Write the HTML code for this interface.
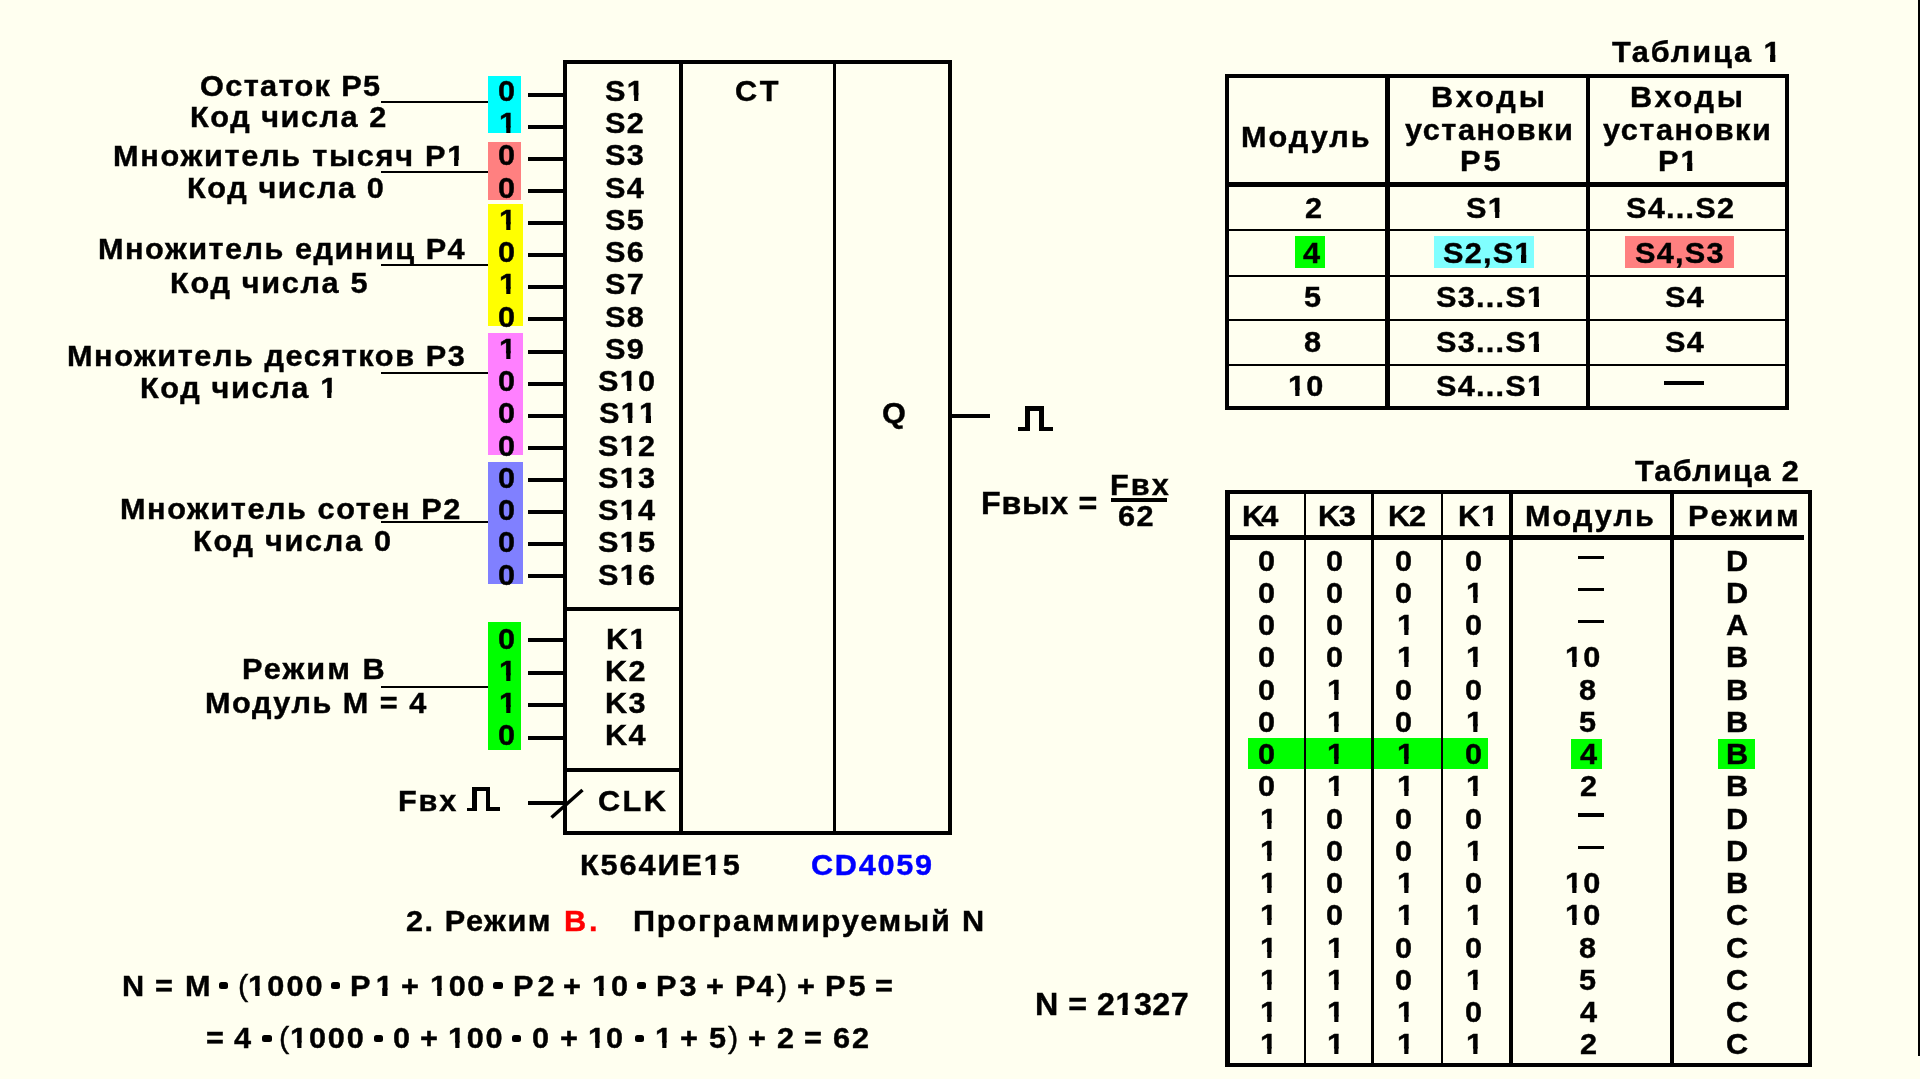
<!DOCTYPE html>
<html><head><meta charset="utf-8"><style>
html,body{margin:0;padding:0;}
body{width:1920px;height:1079px;background:#FFFFF0;position:relative;overflow:hidden;}
.t{position:absolute;white-space:pre;font-family:"Liberation Sans",sans-serif;font-weight:bold;font-size:29.5px;line-height:29.5px;color:#000;transform-origin:0 0;-webkit-text-stroke:0.4px currentColor;}
.r{position:absolute;background:#000;}
.one{display:inline-block;vertical-align:top;position:relative}.oc{display:inline-block;vertical-align:top;clip-path:polygon(0 0,100% 0,100% 0.66em,0 0.66em)}.one::after{content:'';position:absolute;left:calc(0.2334em - 0.2px);width:calc(0.1372em + 0.4px);top:0.6em;height:calc(0.2467em + 0.2px);background:currentColor}
#w{position:absolute;left:0;top:0;width:1920px;height:1079px;filter:blur(0.4px);}
</style></head><body><div id=w>
<div class=r style='left:381.00px;top:100.70px;width:108.50px;height:2.00px;'></div>
<div class=r style='left:381.00px;top:171.30px;width:108.50px;height:2.00px;'></div>
<div class=r style='left:381.00px;top:264.30px;width:108.50px;height:2.00px;'></div>
<div class=r style='left:381.00px;top:371.70px;width:108.50px;height:2.00px;'></div>
<div class=r style='left:381.00px;top:521.30px;width:108.50px;height:2.00px;'></div>
<div class=r style='left:381.00px;top:685.50px;width:108.50px;height:2.00px;'></div>
<div class=r style='left:488.00px;top:76.00px;width:33.00px;height:56.50px;background:#00FFFF;'></div>
<div class=r style='left:488.00px;top:142.00px;width:33.00px;height:58.00px;background:#FF8080;'></div>
<div class=r style='left:488.00px;top:204.40px;width:34.50px;height:121.60px;background:#FFFF00;'></div>
<div class=r style='left:488.00px;top:332.50px;width:34.50px;height:122.70px;background:#FF80FF;'></div>
<div class=r style='left:488.00px;top:462.00px;width:34.50px;height:122.00px;background:#8080FF;'></div>
<div class=r style='left:488.00px;top:622.00px;width:33.00px;height:128.00px;background:#00FF00;'></div>
<div class=r style='left:528.00px;top:93.00px;width:36.00px;height:4.00px;'></div>
<div class=r style='left:528.00px;top:125.07px;width:36.00px;height:4.00px;'></div>
<div class=r style='left:528.00px;top:157.14px;width:36.00px;height:4.00px;'></div>
<div class=r style='left:528.00px;top:189.21px;width:36.00px;height:4.00px;'></div>
<div class=r style='left:528.00px;top:221.28px;width:36.00px;height:4.00px;'></div>
<div class=r style='left:528.00px;top:253.35px;width:36.00px;height:4.00px;'></div>
<div class=r style='left:528.00px;top:285.42px;width:36.00px;height:4.00px;'></div>
<div class=r style='left:528.00px;top:317.49px;width:36.00px;height:4.00px;'></div>
<div class=r style='left:528.00px;top:349.56px;width:36.00px;height:4.00px;'></div>
<div class=r style='left:528.00px;top:381.63px;width:36.00px;height:4.00px;'></div>
<div class=r style='left:528.00px;top:413.70px;width:36.00px;height:4.00px;'></div>
<div class=r style='left:528.00px;top:445.77px;width:36.00px;height:4.00px;'></div>
<div class=r style='left:528.00px;top:477.84px;width:36.00px;height:4.00px;'></div>
<div class=r style='left:528.00px;top:509.91px;width:36.00px;height:4.00px;'></div>
<div class=r style='left:528.00px;top:541.98px;width:36.00px;height:4.00px;'></div>
<div class=r style='left:528.00px;top:574.05px;width:36.00px;height:4.00px;'></div>
<div class=r style='left:528.00px;top:638.00px;width:36.00px;height:4.00px;'></div>
<div class=r style='left:528.00px;top:670.60px;width:36.00px;height:4.00px;'></div>
<div class=r style='left:528.00px;top:703.20px;width:36.00px;height:4.00px;'></div>
<div class=r style='left:528.00px;top:735.80px;width:36.00px;height:4.00px;'></div>
<div class=r style='left:563.00px;top:60.00px;width:389.00px;height:4.00px;'></div>
<div class=r style='left:563.00px;top:831.00px;width:389.00px;height:4.00px;'></div>
<div class=r style='left:563.00px;top:60.00px;width:4.00px;height:775.00px;'></div>
<div class=r style='left:948.00px;top:60.00px;width:4.00px;height:775.00px;'></div>
<div class=r style='left:679.00px;top:60.00px;width:3.50px;height:775.00px;'></div>
<div class=r style='left:832.50px;top:60.00px;width:3.50px;height:775.00px;'></div>
<div class=r style='left:563.00px;top:607.00px;width:119.00px;height:4.00px;'></div>
<div class=r style='left:563.00px;top:768.00px;width:119.00px;height:4.00px;'></div>
<div class=r style='left:528.00px;top:800.50px;width:37.00px;height:4.00px;'></div>
<div class=r style='left:952.00px;top:414.00px;width:38.00px;height:4.00px;'></div>
<div class=r style='left:1018.00px;top:427.00px;width:12.00px;height:4.00px;'></div>
<div class=r style='left:1025.00px;top:408.00px;width:5.00px;height:23.00px;'></div>
<div class=r style='left:1025.00px;top:406.00px;width:19.00px;height:4.50px;'></div>
<div class=r style='left:1039.00px;top:406.00px;width:5.00px;height:25.00px;'></div>
<div class=r style='left:1039.00px;top:426.50px;width:14.00px;height:4.50px;'></div>
<div class=r style='left:467.00px;top:808.00px;width:10.00px;height:2.50px;'></div>
<div class=r style='left:472.00px;top:789.00px;width:5.00px;height:21.50px;'></div>
<div class=r style='left:472.00px;top:787.00px;width:18.00px;height:3.50px;'></div>
<div class=r style='left:486.00px;top:787.00px;width:4.00px;height:23.50px;'></div>
<div class=r style='left:486.00px;top:806.50px;width:14.00px;height:4.00px;'></div>
<div class=r style='left:218.75px;top:982.20px;width:9.20px;height:7.00px;border-radius:2.5px;'></div>
<div class=r style='left:330.75px;top:982.20px;width:9.20px;height:7.00px;border-radius:2.5px;'></div>
<div class=r style='left:493.40px;top:982.20px;width:9.20px;height:7.00px;border-radius:2.5px;'></div>
<div class=r style='left:637.00px;top:982.20px;width:9.20px;height:7.00px;border-radius:2.5px;'></div>
<div class=r style='left:262.47px;top:1034.70px;width:9.20px;height:7.00px;border-radius:2.5px;'></div>
<div class=r style='left:373.95px;top:1034.70px;width:9.20px;height:7.00px;border-radius:2.5px;'></div>
<div class=r style='left:511.60px;top:1034.70px;width:9.20px;height:7.00px;border-radius:2.5px;'></div>
<div class=r style='left:634.88px;top:1034.70px;width:9.20px;height:7.00px;border-radius:2.5px;'></div>
<div class=r style='left:1111.00px;top:498.00px;width:56.00px;height:4.00px;'></div>
<div class=r style='left:1225.00px;top:73.50px;width:564.00px;height:4.00px;'></div>
<div class=r style='left:1225.00px;top:406.00px;width:564.00px;height:4.00px;'></div>
<div class=r style='left:1225.00px;top:73.50px;width:4.00px;height:336.50px;'></div>
<div class=r style='left:1785.00px;top:73.50px;width:4.00px;height:336.50px;'></div>
<div class=r style='left:1385.00px;top:73.50px;width:4.80px;height:336.50px;'></div>
<div class=r style='left:1585.50px;top:73.50px;width:4.50px;height:336.50px;'></div>
<div class=r style='left:1225.00px;top:182.00px;width:564.00px;height:4.50px;'></div>
<div class=r style='left:1225.00px;top:229.30px;width:564.00px;height:2.00px;'></div>
<div class=r style='left:1225.00px;top:274.50px;width:564.00px;height:2.00px;'></div>
<div class=r style='left:1225.00px;top:319.00px;width:564.00px;height:2.00px;'></div>
<div class=r style='left:1225.00px;top:364.00px;width:564.00px;height:2.00px;'></div>
<div class=r style='left:1295.25px;top:235.60px;width:29.45px;height:32.40px;background:#00FF00;'></div>
<div class=r style='left:1434.00px;top:235.60px;width:99.75px;height:32.40px;background:#80FFFF;'></div>
<div class=r style='left:1625.25px;top:235.60px;width:108.75px;height:32.40px;background:#FF8080;'></div>
<div class=r style='left:1664.00px;top:381.00px;width:40.00px;height:4.00px;'></div>
<div class=r style='left:1225.30px;top:490.00px;width:587.10px;height:4.00px;'></div>
<div class=r style='left:1225.30px;top:1063.00px;width:587.10px;height:3.80px;'></div>
<div class=r style='left:1225.30px;top:490.00px;width:4.40px;height:576.80px;'></div>
<div class=r style='left:1808.00px;top:490.00px;width:4.40px;height:576.80px;'></div>
<div class=r style='left:1248.00px;top:738.30px;width:240.00px;height:30.70px;background:#00FF00;'></div>
<div class=r style='left:1571.30px;top:738.70px;width:30.40px;height:30.00px;background:#00FF00;'></div>
<div class=r style='left:1718.30px;top:738.70px;width:36.40px;height:30.00px;background:#00FF00;'></div>
<div class=r style='left:1304.00px;top:490.00px;width:2.00px;height:576.80px;'></div>
<div class=r style='left:1371.00px;top:490.00px;width:3.00px;height:576.80px;'></div>
<div class=r style='left:1441.00px;top:490.00px;width:2.00px;height:576.80px;'></div>
<div class=r style='left:1509.00px;top:490.00px;width:4.00px;height:576.80px;'></div>
<div class=r style='left:1669.70px;top:490.00px;width:4.30px;height:576.80px;'></div>
<div class=r style='left:1225.30px;top:535.00px;width:578.70px;height:4.50px;'></div>
<div class=r style='left:1578.00px;top:555.50px;width:26.00px;height:3.50px;'></div>
<div class=r style='left:1578.00px;top:587.74px;width:26.00px;height:3.50px;'></div>
<div class=r style='left:1578.00px;top:619.98px;width:26.00px;height:3.50px;'></div>
<div class=r style='left:1578.00px;top:813.42px;width:26.00px;height:3.50px;'></div>
<div class=r style='left:1578.00px;top:845.66px;width:26.00px;height:3.50px;'></div>
<div class=t style='left:200.21px;top:70.5px;transform:scaleX(1.0400);letter-spacing:1.32px;'>Остаток Р5</div>
<div class=t style='left:190.42px;top:101.5px;transform:scaleX(1.0400);letter-spacing:1.48px;'>Код числа 2</div>
<div class=t style='left:113.42px;top:140.5px;transform:scaleX(1.0400);letter-spacing:1.65px;'>Множитель тысяч Р<span class=one><span class=oc>1</span></span></div>
<div class=t style='left:186.67px;top:172.5px;transform:scaleX(1.0400);letter-spacing:1.53px;'>Код числа 0</div>
<div class=t style='left:97.92px;top:234.25px;transform:scaleX(1.0400);letter-spacing:1.44px;'>Множитель единиц Р4</div>
<div class=t style='left:170.42px;top:267.5px;transform:scaleX(1.0400);letter-spacing:1.60px;'>Код числа 5</div>
<div class=t style='left:67.42px;top:341.0px;transform:scaleX(1.0400);letter-spacing:1.49px;'>Множитель десятков Р3</div>
<div class=t style='left:140.42px;top:373.0px;transform:scaleX(1.0400);letter-spacing:1.57px;'>Код числа <span class=one><span class=oc>1</span></span></div>
<div class=t style='left:120.42px;top:493.5px;transform:scaleX(1.0400);letter-spacing:1.50px;'>Множитель сотен Р2</div>
<div class=t style='left:192.92px;top:525.5px;transform:scaleX(1.0400);letter-spacing:1.65px;'>Код числа 0</div>
<div class=t style='left:241.67px;top:654.25px;transform:scaleX(1.0400);letter-spacing:1.98px;'>Режим В</div>
<div class=t style='left:204.92px;top:688.0px;transform:scaleX(1.0400);letter-spacing:1.44px;'>Модуль М = 4</div>
<div class=t style='left:397.92px;top:785.75px;transform:scaleX(1.0400);letter-spacing:1.73px;'>Fвх</div>
<div class=t style='left:498.28px;top:75.75px;transform:scaleX(1.0400);'>0</div>
<div class=t style='left:605.24px;top:75.75px;transform:scaleX(1.0400);letter-spacing:1.20px;'>S<span class=one><span class=oc>1</span></span></div>
<div class=t style='left:498.74px;top:108.0px;transform:scaleX(1.0400);'><span class=one><span class=oc>1</span></span></div>
<div class=t style='left:605.46px;top:108.0px;transform:scaleX(1.0400);letter-spacing:1.20px;'>S2</div>
<div class=t style='left:498.28px;top:140.25px;transform:scaleX(1.0400);'>0</div>
<div class=t style='left:605.46px;top:140.25px;transform:scaleX(1.0400);letter-spacing:1.20px;'>S3</div>
<div class=t style='left:498.28px;top:172.5px;transform:scaleX(1.0400);'>0</div>
<div class=t style='left:604.94px;top:172.5px;transform:scaleX(1.0400);letter-spacing:1.20px;'>S4</div>
<div class=t style='left:498.74px;top:204.75px;transform:scaleX(1.0400);'><span class=one><span class=oc>1</span></span></div>
<div class=t style='left:605.46px;top:204.75px;transform:scaleX(1.0400);letter-spacing:1.20px;'>S5</div>
<div class=t style='left:498.28px;top:237.0px;transform:scaleX(1.0400);'>0</div>
<div class=t style='left:605.46px;top:237.0px;transform:scaleX(1.0400);letter-spacing:1.20px;'>S6</div>
<div class=t style='left:498.74px;top:269.25px;transform:scaleX(1.0400);'><span class=one><span class=oc>1</span></span></div>
<div class=t style='left:605.46px;top:269.25px;transform:scaleX(1.0400);letter-spacing:1.20px;'>S7</div>
<div class=t style='left:498.28px;top:301.5px;transform:scaleX(1.0400);'>0</div>
<div class=t style='left:605.46px;top:301.5px;transform:scaleX(1.0400);letter-spacing:1.20px;'>S8</div>
<div class=t style='left:498.74px;top:333.75px;transform:scaleX(1.0400);'><span class=one><span class=oc>1</span></span></div>
<div class=t style='left:605.46px;top:333.75px;transform:scaleX(1.0400);letter-spacing:1.20px;'>S9</div>
<div class=t style='left:498.28px;top:366.0px;transform:scaleX(1.0400);'>0</div>
<div class=t style='left:598.31px;top:366.0px;transform:scaleX(1.0400);letter-spacing:1.20px;'>S<span class=one><span class=oc>1</span></span>0</div>
<div class=t style='left:498.28px;top:398.25px;transform:scaleX(1.0400);'>0</div>
<div class=t style='left:599.29px;top:398.25px;transform:scaleX(1.0400);letter-spacing:1.20px;'>S<span class=one><span class=oc>1</span></span><span class=one><span class=oc>1</span></span></div>
<div class=t style='left:498.28px;top:430.5px;transform:scaleX(1.0400);'>0</div>
<div class=t style='left:598.31px;top:430.5px;transform:scaleX(1.0400);letter-spacing:1.20px;'>S<span class=one><span class=oc>1</span></span>2</div>
<div class=t style='left:498.28px;top:462.75px;transform:scaleX(1.0400);'>0</div>
<div class=t style='left:598.31px;top:462.75px;transform:scaleX(1.0400);letter-spacing:1.20px;'>S<span class=one><span class=oc>1</span></span>3</div>
<div class=t style='left:498.28px;top:495.0px;transform:scaleX(1.0400);'>0</div>
<div class=t style='left:597.79px;top:495.0px;transform:scaleX(1.0400);letter-spacing:1.20px;'>S<span class=one><span class=oc>1</span></span>4</div>
<div class=t style='left:498.28px;top:527.25px;transform:scaleX(1.0400);'>0</div>
<div class=t style='left:597.79px;top:527.25px;transform:scaleX(1.0400);letter-spacing:1.20px;'>S<span class=one><span class=oc>1</span></span>5</div>
<div class=t style='left:498.28px;top:559.5px;transform:scaleX(1.0400);'>0</div>
<div class=t style='left:598.31px;top:559.5px;transform:scaleX(1.0400);letter-spacing:1.20px;'>S<span class=one><span class=oc>1</span></span>6</div>
<div class=t style='left:498.28px;top:623.75px;transform:scaleX(1.0400);'>0</div>
<div class=t style='left:606.40px;top:623.75px;transform:scaleX(1.0400);letter-spacing:1.20px;'>K<span class=one><span class=oc>1</span></span></div>
<div class=t style='left:498.74px;top:655.75px;transform:scaleX(1.0400);'><span class=one><span class=oc>1</span></span></div>
<div class=t style='left:605.10px;top:655.75px;transform:scaleX(1.0400);letter-spacing:1.20px;'>K2</div>
<div class=t style='left:498.74px;top:687.5px;transform:scaleX(1.0400);'><span class=one><span class=oc>1</span></span></div>
<div class=t style='left:605.10px;top:687.5px;transform:scaleX(1.0400);letter-spacing:1.20px;'>K3</div>
<div class=t style='left:498.28px;top:719.5px;transform:scaleX(1.0400);'>0</div>
<div class=t style='left:604.58px;top:719.5px;transform:scaleX(1.0400);letter-spacing:1.20px;'>K4</div>
<div class=t style='left:734.96px;top:75.5px;transform:scaleX(1.0400);letter-spacing:2.38px;'>CT</div>
<div class=t style='left:882.34px;top:397.5px;transform:scaleX(1.0400);'>Q</div>
<div class=t style='left:597.71px;top:785.5px;transform:scaleX(1.0400);letter-spacing:2.35px;'>CLK</div>
<div class=t style='left:580.42px;top:850.0px;transform:scaleX(1.0400);letter-spacing:1.82px;'>К564ИЕ<span class=one><span class=oc>1</span></span>5</div>
<div class=t style='left:811.46px;top:850.0px;transform:scaleX(1.0400);letter-spacing:1.64px;color:#0000FF;'>CD4059</div>
<div class=t style='left:405.96px;top:905.5px;transform:scaleX(1.0400);letter-spacing:1.47px;'>2. Режим</div>
<div class=t style='left:564.17px;top:905.5px;transform:scaleX(1.0400);letter-spacing:2.85px;color:#FF0000;'>В.</div>
<div class=t style='left:632.92px;top:905.5px;transform:scaleX(1.0400);letter-spacing:1.73px;'>Программируемый N</div>
<div class=t style='left:122.08px;top:970.5px;transform:scaleX(1.0400);'>N</div>
<div class=t style='left:155.11px;top:970.5px;transform:scaleX(1.0400);'>=</div>
<div class=t style='left:184.80px;top:970.5px;transform:scaleX(1.0400);'>M</div>
<div class=t style='left:237.73px;top:970.5px;transform:scaleX(1.0400);font-weight:normal;'>(</div>
<div class=t style='left:248.32px;top:970.5px;transform:scaleX(1.0400);letter-spacing:2.04px;'><span class=one><span class=oc>1</span></span>000</div>
<div class=t style='left:350.42px;top:970.5px;transform:scaleX(1.0400);letter-spacing:5.04px;'>P<span class=one><span class=oc>1</span></span></div>
<div class=t style='left:401.46px;top:970.5px;transform:scaleX(1.0400);'>+</div>
<div class=t style='left:429.62px;top:970.5px;transform:scaleX(1.0400);letter-spacing:1.52px;'><span class=one><span class=oc>1</span></span>00</div>
<div class=t style='left:512.52px;top:970.5px;transform:scaleX(1.0400);letter-spacing:3.92px;'>P2</div>
<div class=t style='left:563.39px;top:970.5px;transform:scaleX(1.0400);'>+</div>
<div class=t style='left:591.52px;top:970.5px;transform:scaleX(1.0400);letter-spacing:1.83px;'><span class=one><span class=oc>1</span></span>0</div>
<div class=t style='left:655.52px;top:970.5px;transform:scaleX(1.0400);letter-spacing:2.96px;'>P3</div>
<div class=t style='left:706.41px;top:970.5px;transform:scaleX(1.0400);'>+</div>
<div class=t style='left:734.52px;top:970.5px;transform:scaleX(1.0400);letter-spacing:1.00px;'>P4</div>
<div class=t style='left:776.70px;top:970.5px;transform:scaleX(1.0400);font-weight:normal;'>)</div>
<div class=t style='left:797.21px;top:970.5px;transform:scaleX(1.0400);'>+</div>
<div class=t style='left:825.32px;top:970.5px;transform:scaleX(1.0400);letter-spacing:2.91px;'>P5</div>
<div class=t style='left:875.16px;top:970.5px;transform:scaleX(1.0400);'>=</div>
<div class=t style='left:205.61px;top:1023.0px;transform:scaleX(1.0400);'>=</div>
<div class=t style='left:233.75px;top:1023.0px;transform:scaleX(1.0400);'>4</div>
<div class=t style='left:279.13px;top:1023.0px;transform:scaleX(1.0400);font-weight:normal;'>(</div>
<div class=t style='left:289.92px;top:1023.0px;transform:scaleX(1.0400);letter-spacing:1.76px;'><span class=one><span class=oc>1</span></span>000</div>
<div class=t style='left:392.56px;top:1023.0px;transform:scaleX(1.0400);'>0</div>
<div class=t style='left:419.71px;top:1023.0px;transform:scaleX(1.0400);'>+</div>
<div class=t style='left:448.32px;top:1023.0px;transform:scaleX(1.0400);letter-spacing:1.57px;'><span class=one><span class=oc>1</span></span>00</div>
<div class=t style='left:532.38px;top:1023.0px;transform:scaleX(1.0400);'>0</div>
<div class=t style='left:559.66px;top:1023.0px;transform:scaleX(1.0400);'>+</div>
<div class=t style='left:588.32px;top:1023.0px;transform:scaleX(1.0400);letter-spacing:0.77px;'><span class=one><span class=oc>1</span></span>0</div>
<div class=t style='left:655.14px;top:1023.0px;transform:scaleX(1.0400);'><span class=one><span class=oc>1</span></span></div>
<div class=t style='left:680.21px;top:1023.0px;transform:scaleX(1.0400);'>+</div>
<div class=t style='left:708.66px;top:1023.0px;transform:scaleX(1.0400);'>5</div>
<div class=t style='left:728.12px;top:1023.0px;transform:scaleX(1.0400);font-weight:normal;'>)</div>
<div class=t style='left:747.56px;top:1023.0px;transform:scaleX(1.0400);'>+</div>
<div class=t style='left:777.43px;top:1023.0px;transform:scaleX(1.0400);'>2</div>
<div class=t style='left:804.11px;top:1023.0px;transform:scaleX(1.0400);'>=</div>
<div class=t style='left:832.76px;top:1023.0px;transform:scaleX(1.0400);letter-spacing:1.88px;'>62</div>
<div class=t style='left:1034.82px;top:989.0px;transform:scaleX(1.0400);letter-spacing:0.48px;font-size:31px;line-height:31px;'>N = 2<span class=one><span class=oc>1</span></span>327</div>
<div class=t style='left:981.22px;top:488.0px;transform:scaleX(1.0400);letter-spacing:0.67px;font-size:31px;line-height:31px;'>Fвых =</div>
<div class=t style='left:1110.22px;top:470.25px;transform:scaleX(1.0400);letter-spacing:2.02px;'>Fвх</div>
<div class=t style='left:1118.36px;top:501.0px;transform:scaleX(1.0400);letter-spacing:1.31px;'>62</div>
<div class=t style='left:1612.00px;top:37.0px;transform:scaleX(1.0400);letter-spacing:1.81px;'>Таблица <span class=one><span class=oc>1</span></span></div>
<div class=t style='left:1241.42px;top:121.5px;transform:scaleX(1.0400);letter-spacing:1.89px;'>Модуль</div>
<div class=t style='left:1431.32px;top:81.75px;transform:scaleX(1.0400);letter-spacing:2.85px;'>Входы</div>
<div class=t style='left:1405.00px;top:115.0px;transform:scaleX(1.0400);letter-spacing:1.44px;'>установки</div>
<div class=t style='left:1459.52px;top:146.0px;transform:scaleX(1.0400);letter-spacing:2.96px;'>P5</div>
<div class=t style='left:1629.82px;top:81.75px;transform:scaleX(1.0400);letter-spacing:2.63px;'>Входы</div>
<div class=t style='left:1602.80px;top:115.0px;transform:scaleX(1.0400);letter-spacing:1.44px;'>установки</div>
<div class=t style='left:1657.92px;top:145.5px;transform:scaleX(1.0400);letter-spacing:2.06px;'>P<span class=one><span class=oc>1</span></span></div>
<div class=t style='left:1304.68px;top:192.5px;transform:scaleX(1.0400);'>2</div>
<div class=t style='left:1466.04px;top:192.5px;transform:scaleX(1.0400);letter-spacing:1.20px;'>S<span class=one><span class=oc>1</span></span></div>
<div class=t style='left:1625.82px;top:192.5px;transform:scaleX(1.0400);letter-spacing:1.20px;'>S4...S2</div>
<div class=t style='left:1303.48px;top:237.75px;transform:scaleX(1.0400);'>4</div>
<div class=t style='left:1443.38px;top:237.75px;transform:scaleX(1.0400);letter-spacing:1.20px;'>S2,S<span class=one><span class=oc>1</span></span></div>
<div class=t style='left:1634.90px;top:237.75px;transform:scaleX(1.0400);letter-spacing:1.20px;'>S4,S3</div>
<div class=t style='left:1304.16px;top:281.75px;transform:scaleX(1.0400);'>5</div>
<div class=t style='left:1436.22px;top:281.75px;transform:scaleX(1.0400);letter-spacing:1.20px;'>S3...S<span class=one><span class=oc>1</span></span></div>
<div class=t style='left:1665.14px;top:281.75px;transform:scaleX(1.0400);letter-spacing:1.20px;'>S4</div>
<div class=t style='left:1303.66px;top:326.5px;transform:scaleX(1.0400);'>8</div>
<div class=t style='left:1436.22px;top:326.5px;transform:scaleX(1.0400);letter-spacing:1.20px;'>S3...S<span class=one><span class=oc>1</span></span></div>
<div class=t style='left:1665.14px;top:326.5px;transform:scaleX(1.0400);letter-spacing:1.20px;'>S4</div>
<div class=t style='left:1288.00px;top:370.5px;transform:scaleX(1.0400);letter-spacing:1.20px;'><span class=one><span class=oc>1</span></span>0</div>
<div class=t style='left:1435.77px;top:370.5px;transform:scaleX(1.0400);letter-spacing:1.20px;'>S4...S<span class=one><span class=oc>1</span></span></div>
<div class=t style='left:1635.00px;top:455.5px;transform:scaleX(1.0400);letter-spacing:1.25px;'>Таблица 2</div>
<div class=t style='left:1241.62px;top:500.5px;transform:scaleX(1.0400);letter-spacing:-2.73px;'>K4</div>
<div class=t style='left:1317.62px;top:500.5px;transform:scaleX(1.0400);letter-spacing:-1.35px;'>K3</div>
<div class=t style='left:1387.62px;top:500.5px;transform:scaleX(1.0400);letter-spacing:-1.06px;'>K2</div>
<div class=t style='left:1457.62px;top:500.5px;transform:scaleX(1.0400);letter-spacing:1.06px;'>K<span class=one><span class=oc>1</span></span></div>
<div class=t style='left:1524.92px;top:501.25px;transform:scaleX(1.0400);letter-spacing:1.93px;'>Модуль</div>
<div class=t style='left:1687.92px;top:501.25px;transform:scaleX(1.0400);letter-spacing:2.65px;'>Режим</div>
<div class=t style='left:1258.18px;top:545.5px;transform:scaleX(1.0400);'>0</div>
<div class=t style='left:1325.68px;top:545.5px;transform:scaleX(1.0400);'>0</div>
<div class=t style='left:1395.18px;top:545.5px;transform:scaleX(1.0400);'>0</div>
<div class=t style='left:1464.68px;top:545.5px;transform:scaleX(1.0400);'>0</div>
<div class=t style='left:1725.76px;top:545.5px;transform:scaleX(1.0400);'>D</div>
<div class=t style='left:1258.18px;top:577.75px;transform:scaleX(1.0400);'>0</div>
<div class=t style='left:1325.68px;top:577.75px;transform:scaleX(1.0400);'>0</div>
<div class=t style='left:1395.18px;top:577.75px;transform:scaleX(1.0400);'>0</div>
<div class=t style='left:1466.24px;top:577.75px;transform:scaleX(1.0400);'><span class=one><span class=oc>1</span></span></div>
<div class=t style='left:1725.76px;top:577.75px;transform:scaleX(1.0400);'>D</div>
<div class=t style='left:1258.18px;top:610.0px;transform:scaleX(1.0400);'>0</div>
<div class=t style='left:1325.68px;top:610.0px;transform:scaleX(1.0400);'>0</div>
<div class=t style='left:1396.74px;top:610.0px;transform:scaleX(1.0400);'><span class=one><span class=oc>1</span></span></div>
<div class=t style='left:1464.68px;top:610.0px;transform:scaleX(1.0400);'>0</div>
<div class=t style='left:1726.28px;top:610.0px;transform:scaleX(1.0400);'>A</div>
<div class=t style='left:1258.18px;top:642.25px;transform:scaleX(1.0400);'>0</div>
<div class=t style='left:1325.68px;top:642.25px;transform:scaleX(1.0400);'>0</div>
<div class=t style='left:1396.74px;top:642.25px;transform:scaleX(1.0400);'><span class=one><span class=oc>1</span></span></div>
<div class=t style='left:1466.24px;top:642.25px;transform:scaleX(1.0400);'><span class=one><span class=oc>1</span></span></div>
<div class=t style='left:1564.70px;top:642.25px;transform:scaleX(1.0400);letter-spacing:1.20px;'><span class=one><span class=oc>1</span></span>0</div>
<div class=t style='left:1725.76px;top:642.25px;transform:scaleX(1.0400);'>B</div>
<div class=t style='left:1258.18px;top:674.5px;transform:scaleX(1.0400);'>0</div>
<div class=t style='left:1327.24px;top:674.5px;transform:scaleX(1.0400);'><span class=one><span class=oc>1</span></span></div>
<div class=t style='left:1395.18px;top:674.5px;transform:scaleX(1.0400);'>0</div>
<div class=t style='left:1464.68px;top:674.5px;transform:scaleX(1.0400);'>0</div>
<div class=t style='left:1579.16px;top:674.5px;transform:scaleX(1.0400);'>8</div>
<div class=t style='left:1725.76px;top:674.5px;transform:scaleX(1.0400);'>B</div>
<div class=t style='left:1258.18px;top:706.75px;transform:scaleX(1.0400);'>0</div>
<div class=t style='left:1327.24px;top:706.75px;transform:scaleX(1.0400);'><span class=one><span class=oc>1</span></span></div>
<div class=t style='left:1395.18px;top:706.75px;transform:scaleX(1.0400);'>0</div>
<div class=t style='left:1466.24px;top:706.75px;transform:scaleX(1.0400);'><span class=one><span class=oc>1</span></span></div>
<div class=t style='left:1579.16px;top:706.75px;transform:scaleX(1.0400);'>5</div>
<div class=t style='left:1725.76px;top:706.75px;transform:scaleX(1.0400);'>B</div>
<div class=t style='left:1258.18px;top:739.0px;transform:scaleX(1.0400);'>0</div>
<div class=t style='left:1327.24px;top:739.0px;transform:scaleX(1.0400);'><span class=one><span class=oc>1</span></span></div>
<div class=t style='left:1396.74px;top:739.0px;transform:scaleX(1.0400);'><span class=one><span class=oc>1</span></span></div>
<div class=t style='left:1464.68px;top:739.0px;transform:scaleX(1.0400);'>0</div>
<div class=t style='left:1579.68px;top:739.0px;transform:scaleX(1.0400);'>4</div>
<div class=t style='left:1725.76px;top:739.0px;transform:scaleX(1.0400);'>B</div>
<div class=t style='left:1258.18px;top:771.25px;transform:scaleX(1.0400);'>0</div>
<div class=t style='left:1327.24px;top:771.25px;transform:scaleX(1.0400);'><span class=one><span class=oc>1</span></span></div>
<div class=t style='left:1396.74px;top:771.25px;transform:scaleX(1.0400);'><span class=one><span class=oc>1</span></span></div>
<div class=t style='left:1466.24px;top:771.25px;transform:scaleX(1.0400);'><span class=one><span class=oc>1</span></span></div>
<div class=t style='left:1579.68px;top:771.25px;transform:scaleX(1.0400);'>2</div>
<div class=t style='left:1725.76px;top:771.25px;transform:scaleX(1.0400);'>B</div>
<div class=t style='left:1259.74px;top:803.5px;transform:scaleX(1.0400);'><span class=one><span class=oc>1</span></span></div>
<div class=t style='left:1325.68px;top:803.5px;transform:scaleX(1.0400);'>0</div>
<div class=t style='left:1395.18px;top:803.5px;transform:scaleX(1.0400);'>0</div>
<div class=t style='left:1464.68px;top:803.5px;transform:scaleX(1.0400);'>0</div>
<div class=t style='left:1725.76px;top:803.5px;transform:scaleX(1.0400);'>D</div>
<div class=t style='left:1259.74px;top:835.75px;transform:scaleX(1.0400);'><span class=one><span class=oc>1</span></span></div>
<div class=t style='left:1325.68px;top:835.75px;transform:scaleX(1.0400);'>0</div>
<div class=t style='left:1395.18px;top:835.75px;transform:scaleX(1.0400);'>0</div>
<div class=t style='left:1466.24px;top:835.75px;transform:scaleX(1.0400);'><span class=one><span class=oc>1</span></span></div>
<div class=t style='left:1725.76px;top:835.75px;transform:scaleX(1.0400);'>D</div>
<div class=t style='left:1259.74px;top:868.0px;transform:scaleX(1.0400);'><span class=one><span class=oc>1</span></span></div>
<div class=t style='left:1325.68px;top:868.0px;transform:scaleX(1.0400);'>0</div>
<div class=t style='left:1396.74px;top:868.0px;transform:scaleX(1.0400);'><span class=one><span class=oc>1</span></span></div>
<div class=t style='left:1464.68px;top:868.0px;transform:scaleX(1.0400);'>0</div>
<div class=t style='left:1564.70px;top:868.0px;transform:scaleX(1.0400);letter-spacing:1.20px;'><span class=one><span class=oc>1</span></span>0</div>
<div class=t style='left:1725.76px;top:868.0px;transform:scaleX(1.0400);'>B</div>
<div class=t style='left:1259.74px;top:900.25px;transform:scaleX(1.0400);'><span class=one><span class=oc>1</span></span></div>
<div class=t style='left:1325.68px;top:900.25px;transform:scaleX(1.0400);'>0</div>
<div class=t style='left:1396.74px;top:900.25px;transform:scaleX(1.0400);'><span class=one><span class=oc>1</span></span></div>
<div class=t style='left:1466.24px;top:900.25px;transform:scaleX(1.0400);'><span class=one><span class=oc>1</span></span></div>
<div class=t style='left:1564.70px;top:900.25px;transform:scaleX(1.0400);letter-spacing:1.20px;'><span class=one><span class=oc>1</span></span>0</div>
<div class=t style='left:1726.28px;top:900.25px;transform:scaleX(1.0400);'>C</div>
<div class=t style='left:1259.74px;top:932.5px;transform:scaleX(1.0400);'><span class=one><span class=oc>1</span></span></div>
<div class=t style='left:1327.24px;top:932.5px;transform:scaleX(1.0400);'><span class=one><span class=oc>1</span></span></div>
<div class=t style='left:1395.18px;top:932.5px;transform:scaleX(1.0400);'>0</div>
<div class=t style='left:1464.68px;top:932.5px;transform:scaleX(1.0400);'>0</div>
<div class=t style='left:1579.16px;top:932.5px;transform:scaleX(1.0400);'>8</div>
<div class=t style='left:1726.28px;top:932.5px;transform:scaleX(1.0400);'>C</div>
<div class=t style='left:1259.74px;top:964.75px;transform:scaleX(1.0400);'><span class=one><span class=oc>1</span></span></div>
<div class=t style='left:1327.24px;top:964.75px;transform:scaleX(1.0400);'><span class=one><span class=oc>1</span></span></div>
<div class=t style='left:1395.18px;top:964.75px;transform:scaleX(1.0400);'>0</div>
<div class=t style='left:1466.24px;top:964.75px;transform:scaleX(1.0400);'><span class=one><span class=oc>1</span></span></div>
<div class=t style='left:1579.16px;top:964.75px;transform:scaleX(1.0400);'>5</div>
<div class=t style='left:1726.28px;top:964.75px;transform:scaleX(1.0400);'>C</div>
<div class=t style='left:1259.74px;top:997.0px;transform:scaleX(1.0400);'><span class=one><span class=oc>1</span></span></div>
<div class=t style='left:1327.24px;top:997.0px;transform:scaleX(1.0400);'><span class=one><span class=oc>1</span></span></div>
<div class=t style='left:1396.74px;top:997.0px;transform:scaleX(1.0400);'><span class=one><span class=oc>1</span></span></div>
<div class=t style='left:1464.68px;top:997.0px;transform:scaleX(1.0400);'>0</div>
<div class=t style='left:1579.68px;top:997.0px;transform:scaleX(1.0400);'>4</div>
<div class=t style='left:1726.28px;top:997.0px;transform:scaleX(1.0400);'>C</div>
<div class=t style='left:1259.74px;top:1029.0px;transform:scaleX(1.0400);'><span class=one><span class=oc>1</span></span></div>
<div class=t style='left:1327.24px;top:1029.0px;transform:scaleX(1.0400);'><span class=one><span class=oc>1</span></span></div>
<div class=t style='left:1396.74px;top:1029.0px;transform:scaleX(1.0400);'><span class=one><span class=oc>1</span></span></div>
<div class=t style='left:1466.24px;top:1029.0px;transform:scaleX(1.0400);'><span class=one><span class=oc>1</span></span></div>
<div class=t style='left:1579.68px;top:1029.0px;transform:scaleX(1.0400);'>2</div>
<div class=t style='left:1726.28px;top:1029.0px;transform:scaleX(1.0400);'>C</div>
<svg width="1920" height="1079" style="position:absolute;left:0;top:0">
<g fill="none" stroke="#000" stroke-width="3.5" stroke-linecap="butt" stroke-linejoin="miter">
<line x1="551.5" y1="817.5" x2="582.5" y2="790"/>
</g>
</svg>
<div class=r style='left:1918px;top:0;width:2px;height:1056px'></div>
</div></body></html>
